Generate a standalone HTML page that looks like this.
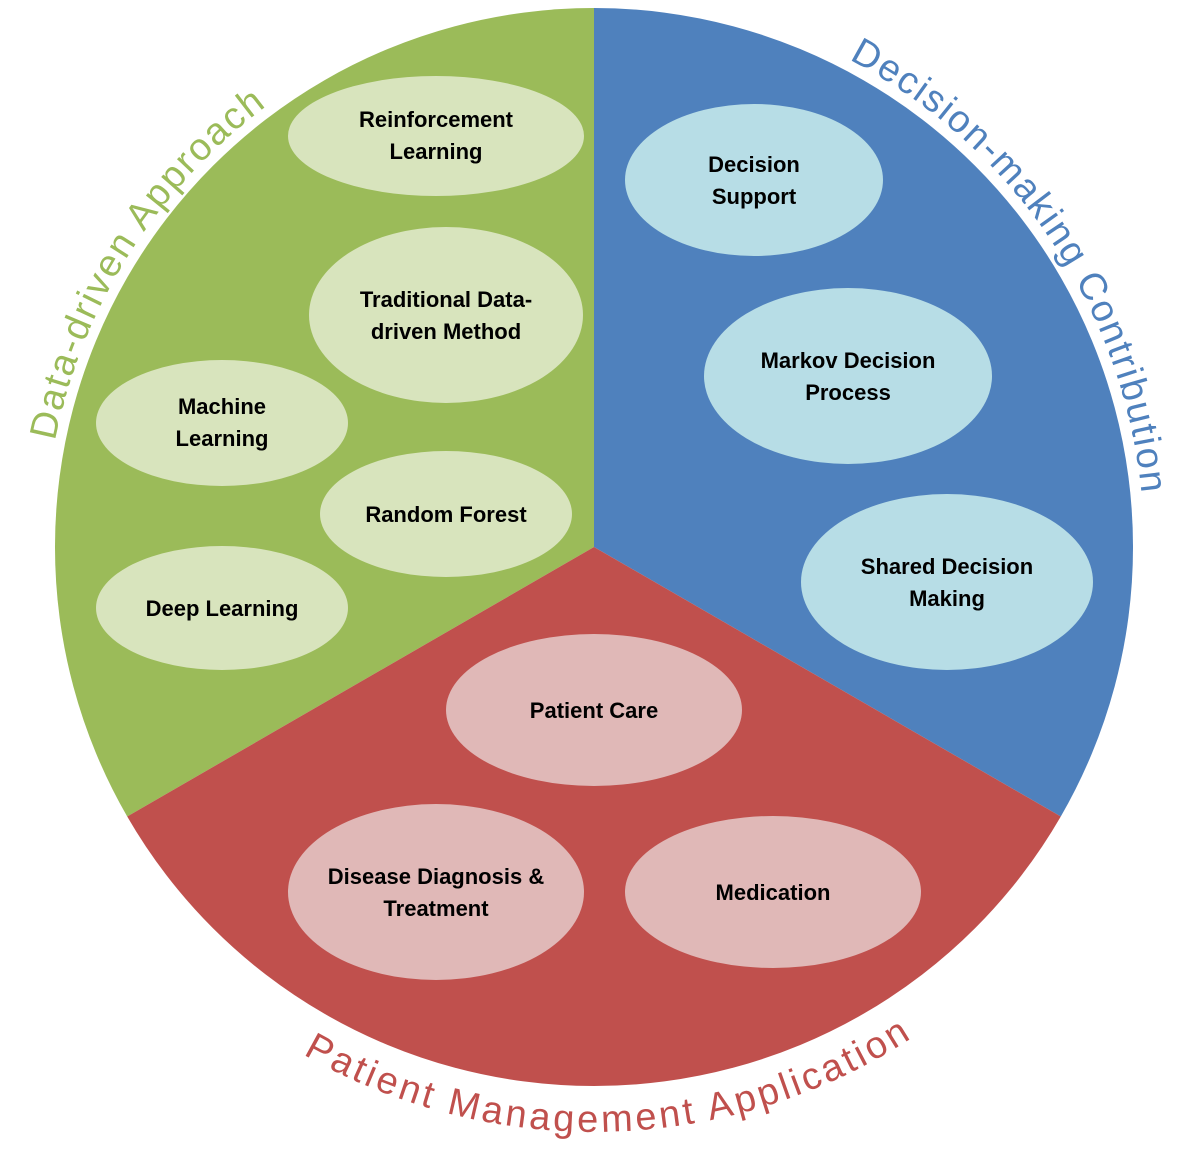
<!DOCTYPE html>
<html><head><meta charset="utf-8"><style>html,body{margin:0;padding:0;background:#fff}svg{display:block}</style></head>
<body>
<svg width="1200" height="1150" viewBox="0 0 1200 1150" xmlns="http://www.w3.org/2000/svg">
<defs>
<path id="pg" d="M 58.3 669.6 A 550 550 0 0 1 474.2 10.8"/>
<path id="pb" d="M 698.9 6.9 A 550 550 0 0 1 1134 651.9"/>
<path id="pr" d="M 191.5 971.3 A 585 585 0 0 0 1018.4 949.6"/>
</defs>
<path d="M594 547 L594 8 A539 539 0 0 0 127.2 816.5 Z" fill="#9bbb59"/>
<path d="M594 547 L594 8 A539 539 0 0 1 1060.8 816.5 Z" fill="#4f81bd"/>
<path d="M594 547 L1060.8 816.5 A539 539 0 0 1 127.2 816.5 Z" fill="#c0504d"/>
<g font-family="Liberation Sans, sans-serif" font-size="38">
<text fill="#9bbb59" text-anchor="middle"><textPath href="#pg" startOffset="50%" textLength="405">Data-driven Approach</textPath></text>
<text fill="#4f81bd" text-anchor="middle"><textPath href="#pb" startOffset="50%" textLength="545">Decision-making Contribution</textPath></text>
<text fill="#c0504d" text-anchor="middle"><textPath href="#pr" startOffset="50%" textLength="640">Patient Management Application</textPath></text>
</g>
<g fill="#d8e4bd">
<ellipse cx="436" cy="136" rx="148" ry="60"/>
<ellipse cx="446" cy="315" rx="137" ry="88"/>
<ellipse cx="222" cy="423" rx="126" ry="63"/>
<ellipse cx="446" cy="514" rx="126" ry="63"/>
<ellipse cx="222" cy="608" rx="126" ry="62"/>
</g>
<g fill="#b7dde6">
<ellipse cx="754" cy="180" rx="129" ry="76"/>
<ellipse cx="848" cy="376" rx="144" ry="88"/>
<ellipse cx="947" cy="582" rx="146" ry="88"/>
</g>
<g fill="#e0b8b7">
<ellipse cx="594" cy="710" rx="148" ry="76"/>
<ellipse cx="436" cy="892" rx="148" ry="88"/>
<ellipse cx="773" cy="892" rx="148" ry="76"/>
</g>
<g font-family="Liberation Sans, sans-serif" font-size="22" font-weight="bold" fill="#000" text-anchor="middle">
<text x="436" y="127">Reinforcement</text><text x="436" y="159">Learning</text>
<text x="446" y="307">Traditional Data-</text><text x="446" y="339">driven Method</text>
<text x="222" y="414">Machine</text><text x="222" y="446">Learning</text>
<text x="446" y="522">Random Forest</text>
<text x="222" y="616">Deep Learning</text>
<text x="754" y="172">Decision</text><text x="754" y="204">Support</text>
<text x="848" y="368">Markov Decision</text><text x="848" y="400">Process</text>
<text x="947" y="574">Shared Decision</text><text x="947" y="606">Making</text>
<text x="594" y="718">Patient Care</text>
<text x="436" y="884">Disease Diagnosis &amp;</text><text x="436" y="916">Treatment</text>
<text x="773" y="900">Medication</text>
</g>
</svg>
</body></html>
